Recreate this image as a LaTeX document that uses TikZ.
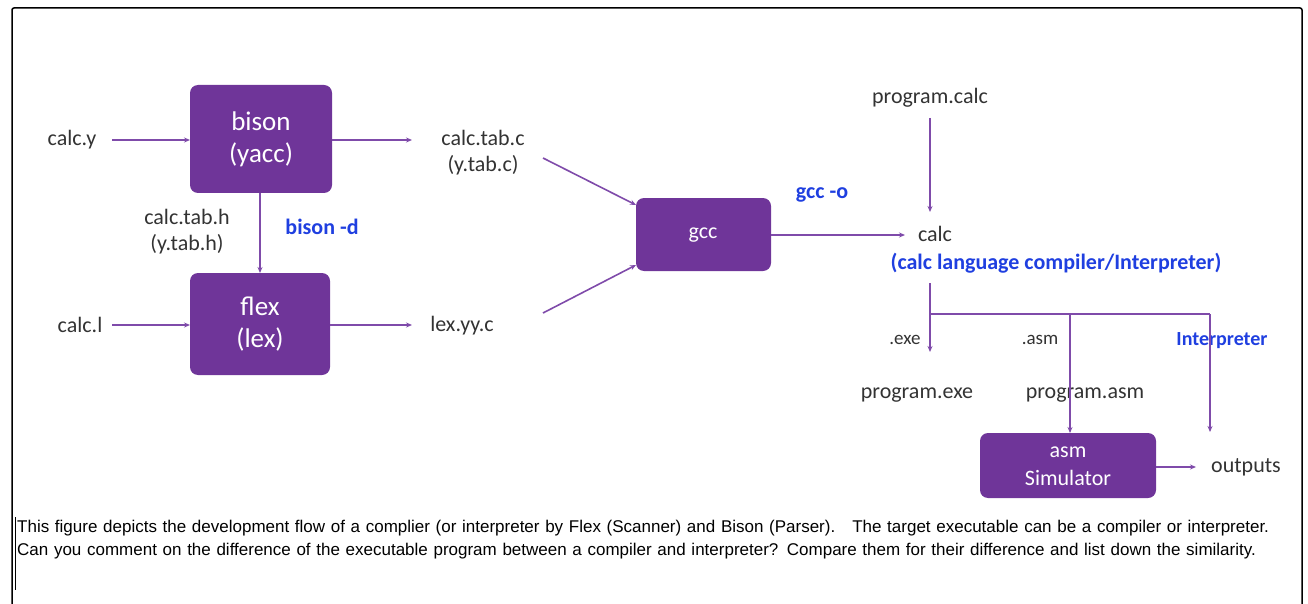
\documentclass[tikz,border=0pt]{standalone}
\usepackage{fontspec}
\setmainfont{Carlito}
\newfontfamily\capfont{Liberation Sans}
\usetikzlibrary{arrows.meta}
\definecolor{pur}{HTML}{6F3599}
\definecolor{lpur}{HTML}{7F4BAA}
\definecolor{bl}{HTML}{1F3FE0}
\begin{document}
\begin{tikzpicture}[x=1pt,y=-1pt,
  box/.style={fill=pur,rounded corners=8pt,draw=none},
  wt/.style={text=white,font=\fontsize{27}{32}\selectfont,align=center},
  lab/.style={font=\fontsize{22}{26}\selectfont,text=black!80,align=center,inner sep=0},
  blab/.style={font=\bfseries\fontsize{22}{26}\selectfont,text=bl,inner sep=0},
  arr/.style={draw=lpur,line width=1.6pt,-{Stealth[length=6pt,width=5pt]}},
  ln/.style={draw=lpur,line width=1.6pt}]
\useasboundingbox (0,0) rectangle (1308,604);
\draw[line width=1.5pt,rounded corners=2pt] (12,604) -- (12,8) -- (1302,8) -- (1302,604);
% boxes
\fill[box] (190,85) rectangle (332,193);
\node[wt] (bison) at (261,139) {bison\\(yacc)};
\path (190,85) coordinate (bnw);
\fill[box] (190,273) rectangle (330,375);
\node[wt] (flex) at (260,324) {flex\\(lex)};
\fill[box] (636,198) rectangle (771,271);
\node[wt,font=\fontsize{22}{26}\selectfont] (gcc) at (703,235) {gcc};
\fill[box] (980,433) rectangle (1156,498);
\node[wt,font=\fontsize{22}{28}\selectfont] (asm) at (1068,466) {asm\\Simulator};
% labels
\node[lab] (cy) at (72,140) {calc.y};
\node[lab] (cl) at (80,325) {calc.l};
\node[lab] (ctc) at (483,153) {calc.tab.c\\(y.tab.c)};
\node[lab] (cth) at (187,232) {calc.tab.h\\(y.tab.h)};
\node[blab] at (322,227) {bison -d};
\node[lab] (lyc) at (462,326) {lex.yy.c};
\node[blab] at (822,195) {gcc -o};
\node[lab] (calc) at (935,234) {calc};
\node[blab] at (1056,263) {(calc language compiler/Interpreter)};
\node[lab] (pc) at (930,98) {program.calc};
\node[lab,font=\fontsize{19}{22}\selectfont] at (905,340) {.exe};
\node[lab,font=\fontsize{19}{22}\selectfont] at (1040,340) {.asm};
\node[blab,font=\bfseries\fontsize{20}{24}\selectfont] at (1222,341) {Interpreter};
\node[lab] (pe) at (917,395) {program.exe};
\node[lab] (pa) at (1085,395) {program.asm};
\node[lab] (out) at (1246,467) {outputs};
% arrows
\draw[arr] (112,140) -- (190,140);
\draw[arr] (332,140) -- (412,140);
\draw[arr] (260,193) -- (260,273);
\draw[arr] (112,325) -- (190,325);
\draw[arr] (330,325) -- (412,325);
\draw[arr] (543,158) -- (636,205);
\draw[arr] (543,313) -- (636,265);
\draw[arr] (771,235) -- (905,235);
\draw[arr] (930,118) -- (930,212);
\draw[arr] (930,283) -- (930,352);
\draw[ln] (930,314) -- (1210,314);
\draw[arr] (1070,314) -- (1070,433);
\draw[arr] (1210,314) -- (1210,432);
\draw[arr] (1156,467) -- (1196,467);
% caption
\draw[line width=0.8pt] (15,517) -- (15,590);
\node[anchor=north west,font=\capfont\fontsize{17}{22.5}\selectfont,align=left,inner sep=0,text width=1270pt] at (17,520) {This figure depicts the development flow of a complier (or interpreter by Flex (Scanner) and Bison (Parser).\ \ \ The target executable can be a compiler or interpreter.\ \ Can you comment on the difference of the executable program between a compiler and interpreter? Compare them for their difference and list down the similarity.};
\end{tikzpicture}
\end{document}
